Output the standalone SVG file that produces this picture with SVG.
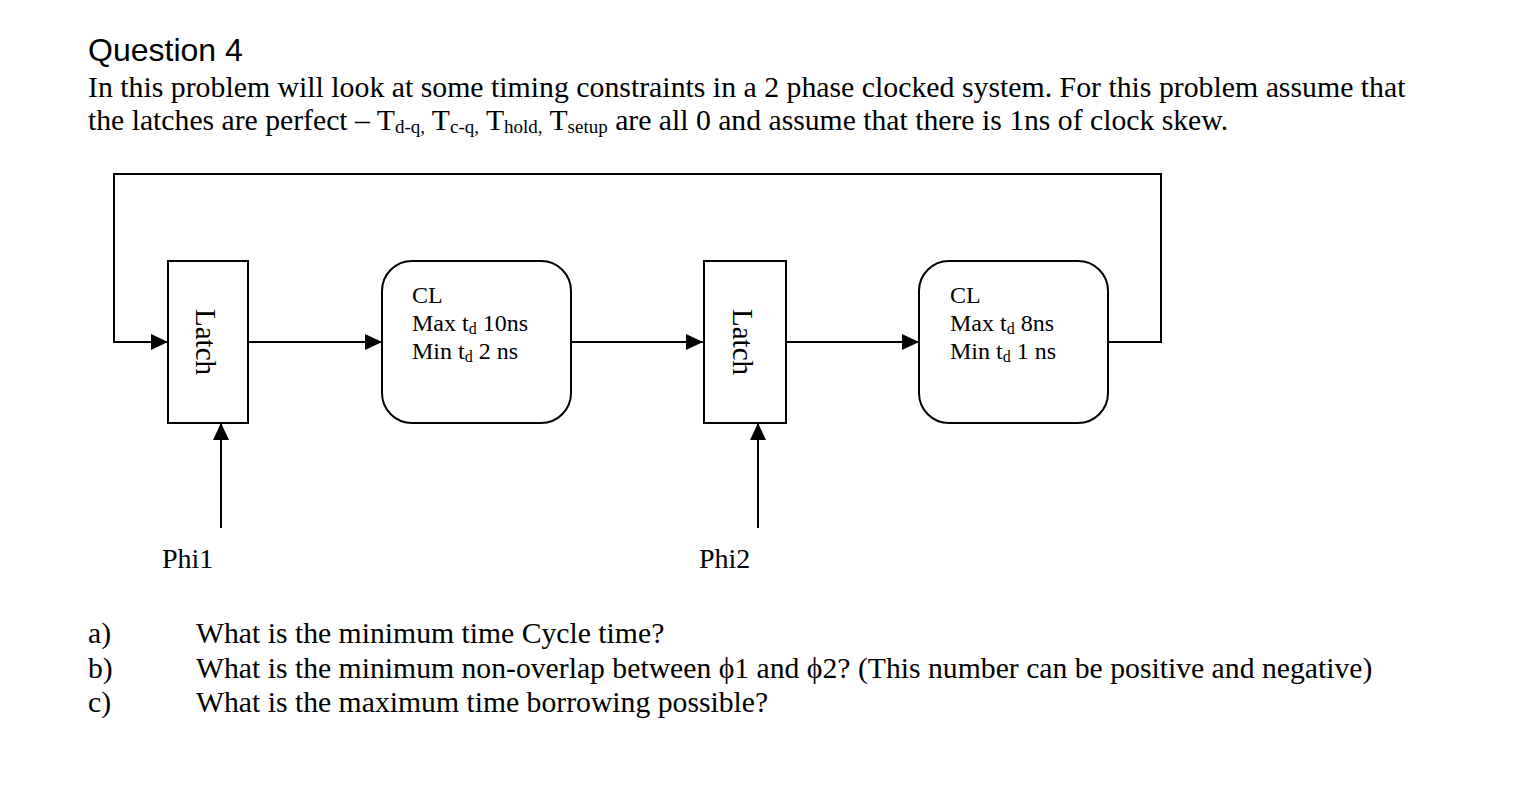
<svg xmlns="http://www.w3.org/2000/svg" width="1524" height="786" viewBox="0 0 1524 786">
<style>
.t{font-family:"Liberation Serif","Times New Roman",serif;fill:#000}
.h{font-family:"Liberation Sans",Arial,sans-serif;fill:#000}
.box{fill:#fff;stroke:#000;stroke-width:2}
.ln{fill:none;stroke:#000;stroke-width:2}
</style>
<defs>
<marker id="ar" markerWidth="17" markerHeight="16" refX="17" refY="8" orient="auto" markerUnits="userSpaceOnUse">
<path d="M0,0 L17,8 L0,16 Z" fill="#000"/>
</marker>
</defs>
<rect width="1524" height="786" fill="#fff"/>
<text class="h" x="88" y="61" font-size="32">Question 4</text>
<text class="t" x="88" y="97" font-size="29.8">In this problem will look at some timing constraints in a 2 phase clocked system. For this problem assume that</text>
<text class="t" x="88" y="130" font-size="29.7">the latches are perfect – T<tspan font-size="19" dy="3">d-q,</tspan><tspan dy="-3"> T</tspan><tspan font-size="19" dy="3">c-q,</tspan><tspan dy="-3"> T</tspan><tspan font-size="19" dy="3">hold,</tspan><tspan dy="-3"> T</tspan><tspan font-size="19" dy="3">setup</tspan><tspan dy="-3"> are all 0 and assume that there is 1ns of clock skew.</tspan></text>
<g id="connectors">
<path class="ln" d="M1108,342 H1161 V174 H114 V342 H168" marker-end="url(#ar)"/>
<path class="ln" d="M248,342 H382" marker-end="url(#ar)"/>
<path class="ln" d="M571,342 H703" marker-end="url(#ar)"/>
<path class="ln" d="M786,342 H919" marker-end="url(#ar)"/>
<path class="ln" d="M221,528 V423" marker-end="url(#ar)"/>
<path class="ln" d="M758,528 V423" marker-end="url(#ar)"/>
</g>
<g id="latch1">
<rect class="box" x="168" y="261" width="80" height="162"/>
<text class="t" font-size="29" text-anchor="middle" dominant-baseline="central" transform="translate(206,342) rotate(90)">Latch</text>
</g>
<g id="cl1">
<rect class="box" x="382" y="261" width="189" height="162" rx="30"/>
<text class="t" font-size="24" x="412" y="303">CL</text>
<text class="t" font-size="24" x="412" y="331">Max t<tspan font-size="16" dy="3">d</tspan><tspan dy="-3"> 10ns</tspan></text>
<text class="t" font-size="24" x="412" y="359">Min t<tspan font-size="16" dy="3">d</tspan><tspan dy="-3"> 2 ns</tspan></text>
</g>
<g id="latch2">
<rect class="box" x="704" y="261" width="82" height="162"/>
<text class="t" font-size="29" text-anchor="middle" dominant-baseline="central" transform="translate(743,342) rotate(90)">Latch</text>
</g>
<g id="cl2">
<rect class="box" x="919" y="261" width="189" height="162" rx="30"/>
<text class="t" font-size="24" x="950" y="303">CL</text>
<text class="t" font-size="24" x="950" y="331">Max t<tspan font-size="16" dy="3">d</tspan><tspan dy="-3"> 8ns</tspan></text>
<text class="t" font-size="24" x="950" y="359">Min t<tspan font-size="16" dy="3">d</tspan><tspan dy="-3"> 1 ns</tspan></text>
</g>
<g id="phi1"><text class="t" font-size="28" x="162" y="568">Phi1</text></g>
<g id="phi2"><text class="t" font-size="28" x="699" y="568">Phi2</text></g>
<g id="questions">
<text class="t" font-size="29.7" x="88" y="643">a)</text>
<text class="t" font-size="29.7" x="88" y="678">b)</text>
<text class="t" font-size="29.7" x="88" y="712">c)</text>
<text class="t" font-size="29.7" x="196" y="643">What is the minimum time Cycle time?</text>
<text class="t" font-size="29.7" x="196" y="678">What is the minimum non-overlap between ϕ1 and ϕ2? (This number can be positive and negative)</text>
<text class="t" font-size="29.7" x="196" y="712">What is the maximum time borrowing possible?</text>
</g>
</svg>
